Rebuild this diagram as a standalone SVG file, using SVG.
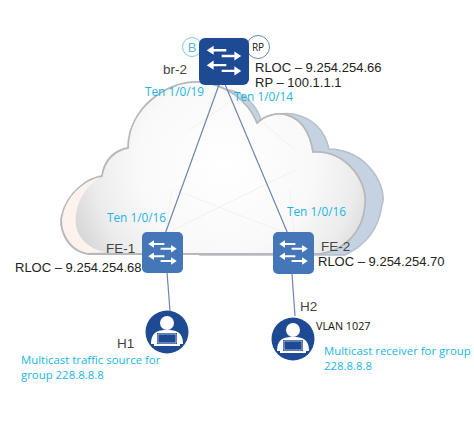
<svg xmlns="http://www.w3.org/2000/svg" width="474" height="424" viewBox="0 0 474 424">
<style>
.t{font-family:"Liberation Sans",Arial,sans-serif;font-size:13px;fill:#222}
.g{font-family:"Liberation Sans",Arial,sans-serif;font-size:13.500px;fill:#444}
.c{font-family:"Open Sans","Noto Sans",sans-serif;font-size:11.800px;fill:#1ab6e2}
.m{font-family:"Open Sans","Noto Sans",sans-serif;font-size:11.400px;fill:#1ab6e2}
.k{font-family:"Open Sans","Noto Sans",sans-serif;font-size:10.800px;fill:#111}
.link{stroke:#6c86b4;stroke-width:1.200;fill:none}
.arr{stroke:#fff;stroke-width:2;fill:none}
.hd{fill:#fff}
.facet{stroke:#f0ebe8;stroke-width:0.700;fill:none}
</style>
<defs>
<radialGradient id="cg" gradientUnits="userSpaceOnUse" cx="225" cy="165" r="160">
<stop offset="0" stop-color="#ffffff"/><stop offset="0.55" stop-color="#faf9f9"/><stop offset="0.82" stop-color="#ececec"/><stop offset="1" stop-color="#d8d8d8"/>
</radialGradient>
<g id="sw">
<path class="arr" d="M-10,-8.500H2M-2,-3.500H11M-10,4.500H2M-2,9.500H11"/>
<path class="hd" d="M-9,-12.500L-15,-8.500 -9,-4.500ZM9,-7.500L15,-3.500 9,0.500ZM-9,0.500L-15,4.500 -9,8.500ZM9,5.500L15,9.500 9,13.500Z"/>
</g>
<g id="person">
<circle r="21.500" fill="#1d4a93"/>
<circle cy="-9" r="7" fill="#fff"/>
<path d="M-16,12C-16,0 -9,-2 0,-2C9,-2 16,0 16,12Z" fill="#fff"/>
<rect x="-10" y="1" width="20" height="11" fill="#1d4a93"/>
<rect x="-9" y="2" width="18" height="9" fill="#1d4a93" stroke="#fff" stroke-width="0.600"/>
<rect x="-13" y="12" width="26" height="2" fill="#fff"/>
</g>
</defs>
<g id="cloud">
<path d="M230,90C250,95 258,110 262,122C275,108 320,108 329,149C370,150 388,190 382,205C378,235 360,248 345,255H200V90Z" fill="#c5d2e1" stroke="#b5bfca" stroke-width="1.500"/>
<path d="M88,254C65,250 58,225 62,215C68,190 90,178 102,176C104,160 115,150 128,148C128,110 165,80 200,82C225,84 248,100 257,123C272,108 306,108 313,152C345,150 368,180 365,205C363,232 345,250 320,254Z" fill="url(#cg)" stroke="#b8b8b8" stroke-width="1.800"/>
<path d="M88,253C66,249 60,225 63,215C68,192 88,180 100,177C84,188 74,205 76,225C78,240 92,250 105,252Z" fill="#fdf3ec"/>
<path class="facet" d="M165,234L295,170M175,190L288,234M190,130L240,95M295,150L262,122M172,190L165,234M290,190L294,232"/>
</g>
<g id="connectors">
<path class="link" d="M220,82L165,234M224,82L288,234M167,272L170,311M292,274L295,316"/>
</g>
<g id="node-br2">
<circle cx="192" cy="47" r="9.500" fill="#fff" stroke="#7cc6e4" stroke-width="1"/>
<text x="192" y="52" text-anchor="middle" style="font-family:'Liberation Sans',sans-serif;font-size:13px;fill:#58b8dc">B</text>
<circle cx="258" cy="47" r="11.500" fill="#fff" stroke="#6c86b4" stroke-width="1"/>
<text x="258" y="51" text-anchor="middle" style="font-family:'Open Sans',sans-serif;font-size:10px;fill:#222">RP</text>
<rect x="199" y="38" width="50" height="47" rx="6" fill="#1d4a93"/>
<use href="#sw" transform="translate(224,60) scale(1.150)"/>
<text class="g" x="163" y="74">br-2</text>
<text class="t" x="255" y="72">RLOC – 9.254.254.66</text>
<text class="t" x="255" y="87">RP – 100.1.1.1</text>
</g>
<g id="node-fe1">
<rect x="142" y="232" width="41" height="41" rx="5" fill="#4577b8"/>
<use href="#sw" transform="translate(162.500,252) scale(0.950)"/>
<text class="g" x="106" y="253">FE-1</text>
<text class="t" x="15" y="272">RLOC – 9.254.254.68</text>
</g>
<g id="node-fe2">
<rect x="273" y="232" width="41" height="42" rx="5" fill="#4577b8"/>
<use href="#sw" transform="translate(293.500,252) scale(0.950)"/>
<text class="g" x="321" y="251">FE-2</text>
<text class="t" x="318" y="266">RLOC – 9.254.254.70</text>
</g>
<g id="node-h1">
<use href="#person" transform="translate(167,332)"/>
<text class="g" x="117" y="348">H1</text>
<text class="m" x="21" y="364">Multicast traffic source for</text>
<text class="m" x="21" y="379">group 228.8.8.8</text>
</g>
<g id="node-h2">
<use href="#person" transform="translate(293,339)"/>
<text class="g" x="300" y="311">H2</text>
<text class="k" x="316" y="330">VLAN 1027</text>
<text class="m" x="324" y="355">Multicast receiver for group</text>
<text class="m" x="324" y="370">228.8.8.8</text>
</g>
<g id="port-labels">
<text class="c" x="145" y="96">Ten 1/0/19</text>
<text class="c" x="234" y="101">Ten 1/0/14</text>
<text class="c" x="107" y="222">Ten 1/0/16</text>
<text class="c" x="287" y="216">Ten 1/0/16</text>
</g>
</svg>
